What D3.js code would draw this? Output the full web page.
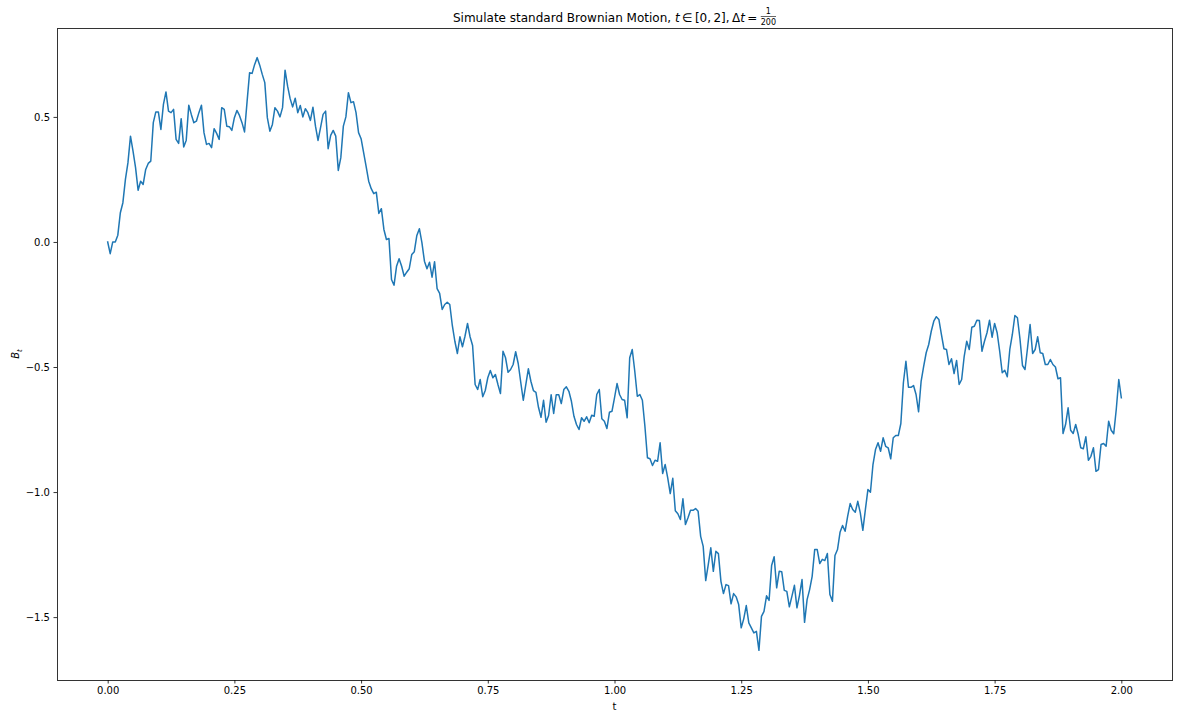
<!DOCTYPE html>
<html>
<head>
<meta charset="utf-8">
<script src="https://cdn.jsdelivr.net/npm/d3@7"></script>
<style>
  html, body { margin: 0; padding: 0; background: #fff; }
  svg { display: block; font-family: "DejaVu Sans", sans-serif; }
</style>
</head>
<body>
<svg id="chart" width="1179" height="719"></svg>
<script>
// ---- data ----
const dt = 1 / 200;
const brownianValues = [
  0, -0.047, 0.0, 0.0, 0.027, 0.117, 0.157, 0.25, 0.317, 0.423,
  0.363, 0.297, 0.207, 0.243, 0.23, 0.29, 0.314, 0.323, 0.477, 0.52,
  0.52, 0.45, 0.55, 0.6, 0.523, 0.517, 0.53, 0.41, 0.394, 0.493,
  0.38, 0.407, 0.547, 0.51, 0.477, 0.483, 0.517, 0.547, 0.437, 0.39,
  0.394, 0.377, 0.453, 0.434, 0.41, 0.537, 0.53, 0.463, 0.461, 0.446,
  0.497, 0.526, 0.506, 0.477, 0.44, 0.56, 0.677, 0.674, 0.71, 0.737,
  0.707, 0.67, 0.637, 0.497, 0.443, 0.47, 0.537, 0.523, 0.5, 0.537,
  0.687, 0.623, 0.573, 0.54, 0.575, 0.517, 0.546, 0.5, 0.533, 0.517,
  0.486, 0.539, 0.463, 0.406, 0.457, 0.51, 0.523, 0.373, 0.426, 0.446,
  0.423, 0.286, 0.337, 0.463, 0.5, 0.597, 0.557, 0.561, 0.517, 0.437,
  0.413, 0.357, 0.301, 0.243, 0.213, 0.193, 0.199, 0.114, 0.133, 0.05,
  0.01, 0.014, -0.15, -0.173, -0.097, -0.067, -0.097, -0.137, -0.121, -0.107,
  -0.05, -0.039, 0.026, 0.053, -0.003, -0.077, -0.107, -0.081, -0.141, -0.079,
  -0.187, -0.206, -0.27, -0.25, -0.241, -0.25, -0.334, -0.397, -0.446, -0.379,
  -0.419, -0.377, -0.326, -0.379, -0.414, -0.57, -0.59, -0.55, -0.619, -0.594,
  -0.543, -0.514, -0.543, -0.53, -0.57, -0.606, -0.437, -0.463, -0.521, -0.51,
  -0.49, -0.439, -0.486, -0.561, -0.633, -0.57, -0.507, -0.557, -0.594, -0.601,
  -0.661, -0.701, -0.633, -0.721, -0.694, -0.611, -0.686, -0.611, -0.611, -0.646,
  -0.59, -0.579, -0.597, -0.637, -0.697, -0.73, -0.75, -0.703, -0.717, -0.699,
  -0.723, -0.693, -0.697, -0.61, -0.59, -0.707, -0.717, -0.746, -0.681, -0.677,
  -0.623, -0.566, -0.61, -0.63, -0.633, -0.703, -0.463, -0.43, -0.517, -0.617,
  -0.61, -0.633, -0.737, -0.863, -0.867, -0.894, -0.873, -0.877, -0.803, -0.926,
  -0.89, -0.943, -1.006, -0.945, -1.075, -1.087, -1.11, -1.027, -1.13, -1.103,
  -1.073, -1.073, -1.066, -1.077, -1.177, -1.217, -1.354, -1.29, -1.223, -1.317,
  -1.237, -1.246, -1.357, -1.406, -1.37, -1.374, -1.447, -1.406, -1.419, -1.45,
  -1.543, -1.507, -1.454, -1.523, -1.543, -1.563, -1.557, -1.633, -1.497, -1.477,
  -1.415, -1.433, -1.294, -1.259, -1.383, -1.317, -1.319, -1.393, -1.397, -1.459,
  -1.417, -1.373, -1.463, -1.413, -1.35, -1.521, -1.43, -1.39, -1.337, -1.23,
  -1.23, -1.286, -1.269, -1.274, -1.246, -1.41, -1.437, -1.254, -1.23, -1.161,
  -1.134, -1.157, -1.097, -1.046, -1.07, -1.081, -1.037, -1.083, -1.153, -1.07,
  -0.99, -1.001, -0.89, -0.83, -0.803, -0.837, -0.783, -0.817, -0.823, -0.867,
  -0.783, -0.774, -0.774, -0.726, -0.563, -0.477, -0.581, -0.581, -0.574, -0.61,
  -0.679, -0.557, -0.497, -0.443, -0.41, -0.357, -0.317, -0.299, -0.31, -0.37,
  -0.427, -0.43, -0.49, -0.467, -0.526, -0.474, -0.57, -0.55, -0.457, -0.397,
  -0.43, -0.341, -0.337, -0.313, -0.314, -0.437, -0.397, -0.363, -0.313, -0.381,
  -0.326, -0.363, -0.437, -0.523, -0.513, -0.539, -0.43, -0.37, -0.294, -0.303,
  -0.387, -0.494, -0.51, -0.423, -0.33, -0.446, -0.43, -0.379, -0.443, -0.446,
  -0.49, -0.49, -0.47, -0.49, -0.5, -0.547, -0.543, -0.766, -0.73, -0.663,
  -0.753, -0.766, -0.73, -0.77, -0.823, -0.827, -0.779, -0.873, -0.857, -0.823,
  -0.917, -0.91, -0.81, -0.806, -0.817, -0.717, -0.753, -0.767, -0.67, -0.55,
  -0.623
];
const xTickValues = [0, 0.25, 0.5, 0.75, 1.0, 1.25, 1.5, 1.75, 2.0];
const yTickValues = [-1.5, -1.0, -0.5, 0.0, 0.5];
const titleText = "Simulate standard Brownian Motion, ";
const xLabelText = "t";

// ---- layout ----
const W = 1179, H = 719;
const margin = { left: 57, right: 7, top: 28, bottom: 39 };
const plotW = W - margin.left - margin.right;
const plotH = H - margin.top - margin.bottom;
const lineColor = "#1f77b4";

const points = brownianValues.map((v, i) => ({ t: i * dt, v }));

const svg = d3.select("#chart");
const g = svg.append("g").attr("transform", `translate(${margin.left},${margin.top})`);

// matplotlib-like 5% margins
const tExt = d3.extent(points, d => d.t);
const vExt = d3.extent(points, d => d.v);
const tPad = (tExt[1] - tExt[0]) * 0.05;
const vPad = (vExt[1] - vExt[0]) * 0.05;

const x = d3.scaleLinear().domain([tExt[0] - tPad, tExt[1] + tPad]).range([0, plotW]);
const y = d3.scaleLinear().domain([vExt[0] - vPad, vExt[1] + vPad]).range([plotH, 0]);

// line
g.append("path")
  .datum(points)
  .attr("fill", "none")
  .attr("stroke", lineColor)
  .attr("stroke-width", 1.5)
  .attr("stroke-linejoin", "round")
  .attr("stroke-linecap", "square")
  .attr("d", d3.line().x(d => x(d.t)).y(d => y(d.v)));

// axes
const fmtX = d3.format(".2f");
const fmtY = d3.format(".1f");
const xAxis = g.append("g")
  .attr("transform", `translate(0,${plotH})`)
  .call(d3.axisBottom(x).tickValues(xTickValues).tickFormat(fmtX)
        .tickSize(3.5).tickPadding(3.5).tickSizeOuter(0));
const yAxis = g.append("g")
  .call(d3.axisLeft(y).tickValues(yTickValues).tickFormat(fmtY)
        .tickSize(3.5).tickPadding(3.5).tickSizeOuter(0));

[xAxis, yAxis].forEach(a => {
  a.select(".domain").remove();
  a.selectAll(".tick line").attr("stroke", "#000").attr("stroke-width", 0.8);
  a.selectAll(".tick text").attr("fill", "#000")
    .attr("font-size", 10).attr("font-family", "DejaVu Sans, sans-serif");
});

// frame
g.append("rect")
  .attr("x", 0).attr("y", 0).attr("width", plotW).attr("height", plotH)
  .attr("fill", "none").attr("stroke", "#000").attr("stroke-width", 0.8)
  .attr("shape-rendering", "crispEdges");

// x label
svg.append("text")
  .attr("x", margin.left + plotW / 2).attr("y", 710)
  .attr("text-anchor", "middle").attr("font-size", 10)
  .text(xLabelText);

// y label  B_t
const yl = svg.append("text")
  .attr("transform", `translate(19,${margin.top + plotH / 2}) rotate(-90)`)
  .attr("text-anchor", "middle").attr("font-size", 10);
yl.append("tspan").attr("font-style", "italic").text("B");
yl.append("tspan").attr("font-style", "italic").attr("font-size", 7).attr("dy", 2.5).text("t");

// title with math
const titleG = svg.append("g");
const tt = titleG.append("text").attr("x", 0).attr("y", 22).attr("font-size", 12);
tt.append("tspan").text(titleText);
tt.append("tspan").attr("font-style", "italic").text("t");
tt.append("tspan").text("\u2009\u2208\u2009[0,\u20092],\u2009\u0394");
tt.append("tspan").attr("font-style", "italic").text("t");
tt.append("tspan").text("\u2009=\u2009");
const mainW = tt.node().getComputedTextLength();
const fracG = titleG.append("g").attr("transform", `translate(${mainW + 1},0)`);
const num = fracG.append("text").attr("font-size", 8).attr("y", 14).text("1");
const den = fracG.append("text").attr("font-size", 8).attr("y", 24.5).text("200");
const numW = num.node().getComputedTextLength();
const denW = den.node().getComputedTextLength();
const fracW = Math.max(numW, denW);
num.attr("x", (fracW - numW) / 2);
den.attr("x", (fracW - denW) / 2);
fracG.append("line").attr("x1", 0).attr("x2", fracW).attr("y1", 16.5).attr("y2", 16.5)
  .attr("stroke", "#000").attr("stroke-width", 0.6);
const totalW = mainW + 1 + fracW;
titleG.attr("transform", `translate(${margin.left + plotW / 2 - totalW / 2},0)`);
</script>
</body>
</html>
